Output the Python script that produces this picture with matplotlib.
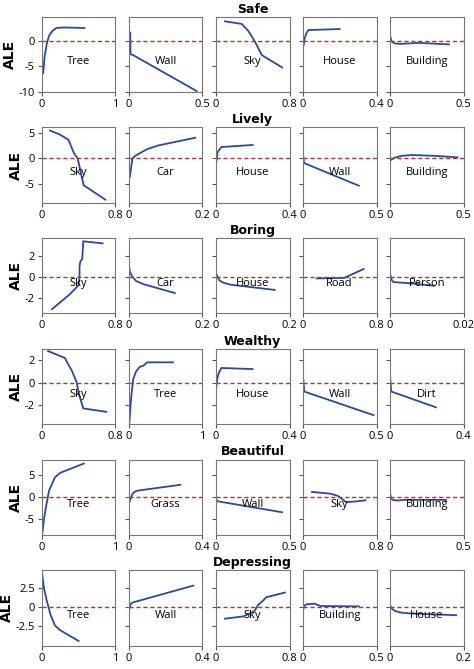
import numpy as np
import matplotlib.pyplot as plt

# ------------------------------Data------------------------------
row_titles = ['Safe', 'Lively', 'Boring', 'Wealthy', 'Beautiful', 'Depressing']
row_ylims = [(-10, 4.7), (-8.6, 6.0), (-3.5, 3.7), (-3.7, 3.0), (-8.5, 8.5), (-5.0, 4.8)]
row_yticks = [[-10, -5, 0], [-5, 0, 5], [-2, 0, 2], [-2, 0, 2], [-5, 0, 5], [-2.5, 0, 2.5]]

names = [
    ['Tree', 'Wall', 'Sky', 'House', 'Building'],
    ['Sky', 'Car', 'House', 'Wall', 'Building'],
    ['Sky', 'Car', 'House', 'Road', 'Person'],
    ['Sky', 'Tree', 'House', 'Wall', 'Dirt'],
    ['Tree', 'Grass', 'Wall', 'Sky', 'Building'],
    ['Tree', 'Wall', 'Sky', 'Building', 'House'],
]
xmax = [
    [1, 0.5, 0.8, 0.4, 0.5],
    [0.8, 0.2, 0.4, 0.5, 0.5],
    [0.8, 0.2, 0.2, 0.8, 0.02],
    [0.8, 1, 0.4, 0.5, 0.4],
    [1, 0.4, 0.5, 0.8, 0.5],
    [1, 0.4, 0.8, 0.5, 0.2],
]
xs = [
    [[0.02, 0.04, 0.07, 0.1, 0.15, 0.2, 0.3, 0.58],
     [0.01, 0.012, 0.03, 0.46],
     [0.1, 0.28, 0.35, 0.42, 0.5, 0.72],
     [0.005, 0.01, 0.02, 0.03, 0.2],
     [0.005, 0.01, 0.03, 0.07, 0.2, 0.4]],
    [[0.09, 0.2, 0.29, 0.35, 0.39, 0.455, 0.69],
     [0.003, 0.01, 0.02, 0.05, 0.08, 0.18],
     [0.002, 0.01, 0.03, 0.2],
     [0.002, 0.008, 0.38],
     [0.002, 0.03, 0.08, 0.15, 0.3, 0.46]],
    [[0.11, 0.3, 0.4, 0.41, 0.41, 0.42, 0.44, 0.45, 0.66],
     [0.001, 0.003, 0.01, 0.02, 0.04, 0.125],
     [0.001, 0.005, 0.01, 0.02, 0.04, 0.16],
     [0.15, 0.45, 0.66],
     [0.0001, 0.0005, 0.001, 0.005, 0.012]],
    [[0.07, 0.25, 0.33, 0.38, 0.4, 0.45, 0.7],
     [0.01, 0.03, 0.06, 0.1, 0.15, 0.2, 0.25, 0.6],
     [0.002, 0.008, 0.015, 0.03, 0.2],
     [0.002, 0.01, 0.48],
     [0.002, 0.008, 0.25]],
    [[0.01, 0.03, 0.06, 0.1, 0.18, 0.25, 0.57],
     [0.002, 0.01, 0.02, 0.03, 0.05, 0.28],
     [0.002, 0.004, 0.01, 0.45],
     [0.1, 0.3, 0.38, 0.47, 0.55, 0.68],
     [0.002, 0.005, 0.01, 0.02, 0.05, 0.1, 0.38]],
    [[0.005, 0.03, 0.07, 0.12, 0.18, 0.25, 0.5],
     [0.002, 0.01, 0.02, 0.35],
     [0.1, 0.3, 0.42, 0.46, 0.5, 0.55, 0.75],
     [0.002, 0.01, 0.03, 0.08, 0.12, 0.38],
     [0.0005, 0.005, 0.015, 0.03, 0.05, 0.1, 0.18]],
]
ys = [
    [[-6.3, -3, -0.5, 1, 2, 2.5, 2.6, 2.5],
     [1.6, -2.6, -2.8, -9.8],
     [3.8, 3.3, 2, 0, -2.8, -5.2],
     [-0.8, 0.5, 1.5, 2.1, 2.3],
     [0.7, 0, -0.5, -0.6, -0.4, -0.7]],
    [[5.4, 4.6, 3.6, 1, 0, -5.2, -8.0],
     [-3.6, 0, 0.6, 1.8, 2.5, 4.0],
     [-0.9, 1.2, 2.2, 2.6],
     [0.8, -0.9, -5.3],
     [-0.4, 0.1, 0.5, 0.65, 0.5, 0.2]],
    [[-3.1, -1.7, -0.8, 0, 1, 1.5, 1.7, 3.4, 3.2],
     [1.0, 0.5, 0, -0.4, -0.7, -1.55],
     [0.3, 0, -0.35, -0.55, -0.75, -1.25],
     [-0.15, -0.1, 0.75],
     [0.25, -0.3, -0.5, -0.6, -0.85]],
    [[2.8, 2.2, 1.0, 0, -0.9, -2.3, -2.6],
     [-3.5, -1.5, 0.3, 1.0, 1.4, 1.5, 1.8, 1.8],
     [-0.5, 0.3, 0.8, 1.3, 1.2],
     [0.5, -0.8, -2.9],
     [0.4, -0.8, -2.2]],
    [[-8, -5, -2, 1.5, 4.5, 5.5, 7.6],
     [-1.3, -0.3, 0.7, 1.2, 1.5, 2.8],
     [0.6, -0.6, -0.9, -3.4],
     [1.2, 0.8, 0.3, -1.1, -1.0, -0.7],
     [1.0, 0.3, -0.3, -0.6, -0.75, -0.6, -0.6]],
    [[4.4, 2.5, 0.8, -1, -2.4, -3, -4.4],
     [-0.4, 0.4, 0.6, 2.8],
     [-1.5, -1.2, -0.5, 0.3, 0.7, 1.3, 1.9],
     [-0.4, 0.2, 0.4, 0.45, 0.15, 0.1],
     [0.3, -0.2, -0.5, -0.7, -0.8, -0.9, -1.05]],
]

# ------------------------------Plotting------------------------------
plt.rc('font', family='Open Sans', size=8)

fig, axes = plt.subplots(6, 5, figsize=(4.74, 6.69), dpi=100)
fig.subplots_adjust(left=0.088, right=0.978, top=0.975, bottom=0.035, wspace=0.18, hspace=0.47)

line_color = '#2b4a9a'
for r in range(6):
    for c in range(5):
        ax = axes[r, c]
        ax.plot(xs[r][c], ys[r][c], color=line_color, lw=1.3)
        ax.axhline(0, color='#b8312f', ls=(0, (3, 2)), lw=1)
        ax.set_xlim(0, xmax[r][c])
        ax.set_ylim(*row_ylims[r])
        ax.set_xticks([0, xmax[r][c]])
        ax.set_xticklabels(['0', '%g' % xmax[r][c]])
        ax.set_yticks(row_yticks[r])
        ax.set_yticklabels(['%g' % v for v in row_yticks[r]] if c == 0 else [])
        ax.text(0.5, 0.4, names[r][c], transform=ax.transAxes, ha='center', va='center', fontsize=8)
        for s in ax.spines.values():
            s.set_color('#777777')
        ax.tick_params(colors='#555555', labelcolor='black', length=3, labelsize=8, pad=2)
        if c == 0:
            ax.set_ylabel('ALE', fontsize=10, fontweight='bold', family='DejaVu Sans', labelpad=1)
    # row title centred over the middle column
    axes[r, 2].set_title(row_titles[r], fontsize=9, fontweight='bold', family='DejaVu Sans', pad=3)

fig.savefig('out.png', dpi=100)
